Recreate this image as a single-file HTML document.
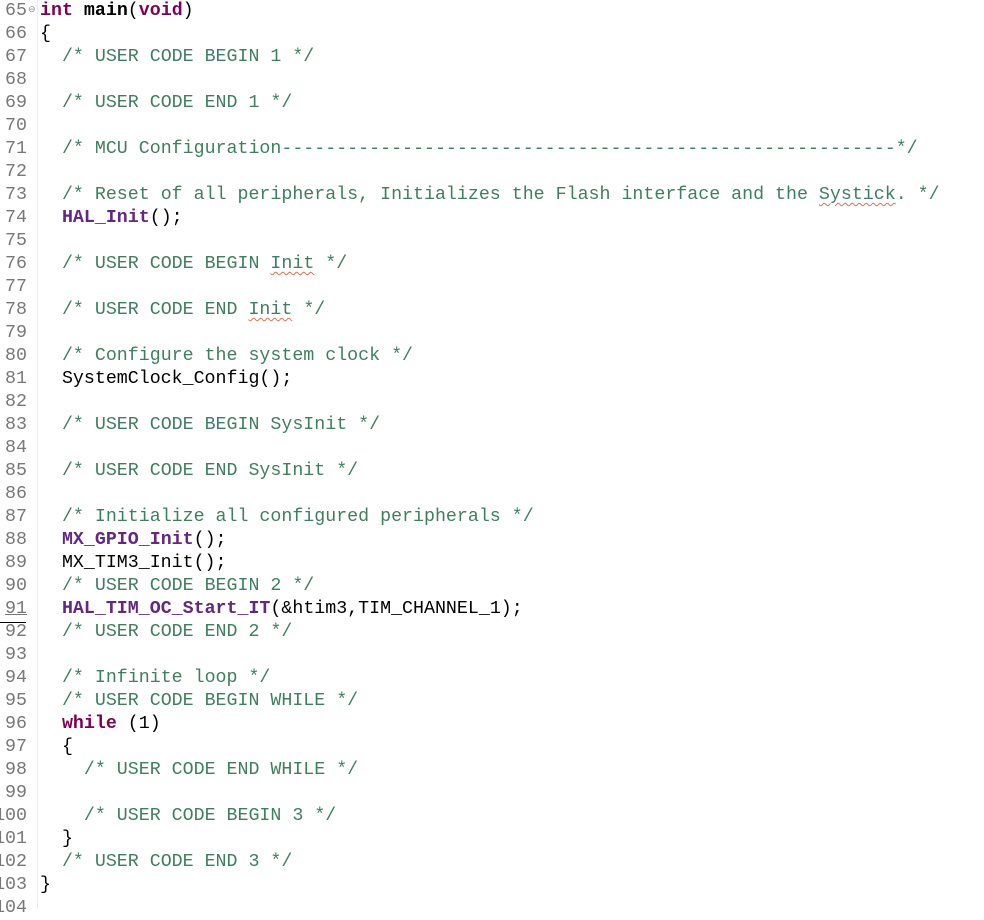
<!DOCTYPE html>
<html><head><meta charset="utf-8"><style>
html,body{margin:0;padding:0;background:#fff;width:984px;height:908px;overflow:hidden;}
.wrap{position:absolute;left:0;top:0px;font-family:"Liberation Mono",monospace;font-size:18.3px;line-height:23px;}
.ln{position:absolute;left:-12px;width:39px;text-align:right;color:#787878;white-space:pre;}
.code{position:absolute;left:40px;white-space:pre;color:#000;}
.c{color:#3f7f5f}
.k{color:#7f0055;font-weight:bold}
.f{color:#642880;font-weight:bold}
.sq{text-decoration:underline wavy #e07050;text-decoration-thickness:1px;text-underline-offset:3px}
.gut{position:absolute;left:37px;top:0;width:1px;height:908px;background:#ececec}
</style></head><body>
<div class="gut"></div>
<div style="position:absolute;left:0;top:622px;width:26px;height:1px;background:#000"></div>
<div class="wrap">
<div class="ln">65
66
67
68
69
70
71
72
73
74
75
76
77
78
79
80
81
82
83
84
85
86
87
88
89
90
<u>91</u>
92
93
94
95
96
97
98
99
100
101
102
103
104</div>
<div style="position:absolute;left:28px;top:6px;font-size:9px;line-height:9px;color:#888">⊖</div>
<div class="code"><span class="k">int</span> <b>main</b>(<span class="k">void</span>)
{
  <span class="c">/* USER CODE BEGIN 1 */</span>

  <span class="c">/* USER CODE END 1 */</span>

  <span class="c">/* MCU Configuration--------------------------------------------------------*/</span>

  <span class="c">/* Reset of all peripherals, Initializes the Flash interface and the <span class="sq">Systick</span>. */</span>
  <span class="f">HAL_Init</span>();

  <span class="c">/* USER CODE BEGIN <span class="sq">Init</span> */</span>

  <span class="c">/* USER CODE END <span class="sq">Init</span> */</span>

  <span class="c">/* Configure the system clock */</span>
  SystemClock_Config();

  <span class="c">/* USER CODE BEGIN SysInit */</span>

  <span class="c">/* USER CODE END SysInit */</span>

  <span class="c">/* Initialize all configured peripherals */</span>
  <span class="f">MX_GPIO_Init</span>();
  MX_TIM3_Init();
  <span class="c">/* USER CODE BEGIN 2 */</span>
  <span class="f">HAL_TIM_OC_Start_IT</span>(&amp;htim3,TIM_CHANNEL_1);
  <span class="c">/* USER CODE END 2 */</span>

  <span class="c">/* Infinite loop */</span>
  <span class="c">/* USER CODE BEGIN WHILE */</span>
  <span class="k">while</span> (1)
  {
    <span class="c">/* USER CODE END WHILE */</span>

    <span class="c">/* USER CODE BEGIN 3 */</span>
  }
  <span class="c">/* USER CODE END 3 */</span>
}
</div>
</div>
</body></html>
